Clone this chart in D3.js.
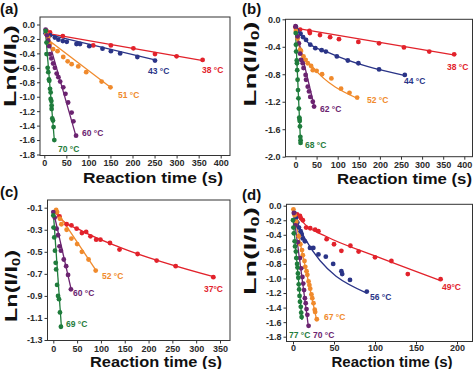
<!DOCTYPE html>
<html><head><meta charset="utf-8">
<script src="https://cdn.jsdelivr.net/npm/d3@7"></script>
<style>
body{margin:0;background:#fff;}
svg{display:block;font-family:Arial,"Liberation Sans",Helvetica,sans-serif;}
</style></head><body>
<svg id="c" width="474" height="369"></svg>
<script>
// ---------- tick values ----------
const aXTicks = [0,50,100,150,200,250,300,350,400];
const aYTicks = [0,-0.2,-0.4,-0.6,-0.8,-1.0,-1.2,-1.4,-1.6,-1.8];
const bXTicks = [0,50,100,150,200,250,300,350,400];
const bYTicks = [0,-0.4,-0.8,-1.2,-1.6,-2.0];
const cXTicks = [0,50,100,150,200,250,300,350];
const cYTicks = [-0.1,-0.3,-0.5,-0.7,-0.9,-1.1,-1.3];
const dXTicks = [0,50,100,150,200];
const dYTicks = [0,-0.2,-0.4,-0.6,-0.8,-1.0,-1.2,-1.4,-1.6,-1.8];

// ---------- temperature labels ----------
const aTemps = ["38 °C","43 °C","51 °C","60 °C","70 °C"];
const bTemps = ["38 °C","44 °C","52 °C","62 °C","68 °C"];
const cTemps = ["37°C","52 °C","60 °C","69 °C"];
const dTemps = ["49°C","56 °C","67 °C","70 °C","77 °C"];

// ---------- panel (a) ----------
const a1_t = [5,13,42,111,151,202,251,300,359];
const a1_v = [-0.09,-0.11,-0.16,-0.29,-0.29,-0.33,-0.41,-0.44,-0.49];
const a1_fit = [[3,-0.12],[360,-0.50]];
const a2_t = [3,13,24,32,42,51,73,81,102,132,151,172,211,251];
const a2_v = [-0.12,-0.15,-0.18,-0.21,-0.23,-0.24,-0.27,-0.27,-0.30,-0.335,-0.37,-0.40,-0.45,-0.50];
const a2_fit = [[3,-0.13],[251,-0.49]];
const a3_t = [5,9,13,20,30,43,53,62,77,95,130,150];
const a3_v = [-0.13,-0.18,-0.27,-0.34,-0.37,-0.45,-0.51,-0.55,-0.58,-0.66,-0.79,-0.87];
const a3_fit = [[4,-0.19],[150,-0.87]];
const a4_t = [3,6,9,11,13,16,20,24,28,32,36,43,48,54,62,66,72];
const a4_v = [-0.07,-0.15,-0.22,-0.30,-0.41,-0.47,-0.54,-0.60,-0.68,-0.73,-0.79,-0.87,-0.96,-1.08,-1.22,-1.34,-1.54];
const a4_fit = [[3,-0.07],[72,-1.55]];
const a5_t = [3,5,5,7.6,9,10.6,11.3,13,14.4,14.4,16,16.6,16.6,18,19.7,21,22.7];
const a5_v = [-0.09,-0.25,-0.41,-0.60,-0.66,-0.76,-0.78,-0.89,-0.94,-1.03,-1.06,-1.12,-1.17,-1.30,-1.33,-1.42,-1.60];
const a5_fit = [[2,-0.05],[22.7,-1.6]];

// ---------- panel (b) ----------
const b1_t = [0,11,33,34,58,82,103,149,198,257,317,376];
const b1_v = [-0.12,-0.15,-0.17,-0.20,-0.23,-0.26,-0.29,-0.33,-0.35,-0.41,-0.47,-0.51];
const b1_fit = [[0,-0.13],[378,-0.52]];
const b2_t = [1,4,12,18,25,35,47,62,72,98,124,149,198,259];
const b2_v = [-0.11,-0.17,-0.21,-0.26,-0.30,-0.37,-0.42,-0.45,-0.47,-0.54,-0.60,-0.64,-0.73,-0.81];
const b2_fit = [[0,-0.12],[30,-0.34],[80,-0.49],[260,-0.82]];
const b3_t = [1,5,7,11,13,19,24,29,37,41,50,63,85,108,128,146];
const b3_v = [-0.17,-0.28,-0.35,-0.44,-0.46,-0.54,-0.59,-0.64,-0.68,-0.74,-0.75,-0.80,-0.86,-1.01,-1.07,-1.14];
const b3_fit = [[0,-0.15],[12,-0.46],[40,-0.69],[150,-1.16]];
const b4_t = [0,5,8,11,13,17,19,24,25,29,32,35,41,44];
const b4_v = [-0.10,-0.25,-0.35,-0.50,-0.59,-0.64,-0.71,-0.81,-0.88,-0.98,-1.05,-1.13,-1.20,-1.27];
const b4_fit = [[0,-0.12],[45,-1.28]];
const b5_t = [0.5,1,1.5,3,3.5,4,5,6,7,8,9,9.5,10,10.5,11.5,12,12];
const b5_v = [-0.20,-0.37,-0.47,-0.60,-0.64,-0.74,-0.88,-1.03,-1.15,-1.30,-1.43,-1.45,-1.48,-1.56,-1.71,-1.76,-1.80];
const b5_fit = [[0,-0.17],[12,-1.8]];

// ---------- panel (c) ----------
const c1_t = [6,13,28,38,49,60,69,78,90,99,119,139,177,217,257,336];
const c1_v = [-0.14,-0.18,-0.25,-0.26,-0.29,-0.33,-0.32,-0.36,-0.39,-0.39,-0.42,-0.48,-0.52,-0.58,-0.63,-0.73];
const c1_fit = [[5,-0.14],[13,-0.19],[60,-0.31],[140,-0.46],[340,-0.73]];
const c2_t = [6,8,14,17,28,38,50,60,74,89];
const c2_v = [-0.12,-0.14,-0.20,-0.25,-0.30,-0.38,-0.43,-0.50,-0.57,-0.67];
const c2_fit = [[5,-0.12],[90,-0.67]];
const c3_t = [0,3,7,10,13,16,22,27,31,37];
const c3_v = [-0.14,-0.19,-0.29,-0.35,-0.45,-0.49,-0.57,-0.63,-0.71,-0.84];
const c3_fit = [[0,-0.13],[38,-0.85]];
const c4_t = [0,0.5,2,3.5,5,6,8,10,12,14,16];
const c4_v = [-0.17,-0.28,-0.37,-0.49,-0.60,-0.66,-0.80,-0.90,-0.93,-1.05,-1.18];
const c4_fit = [[0,-0.14],[17,-1.18]];

// ---------- panel (d) ----------
const d1_t = [5,8.5,9.5,12,16,21,27,31,41,50,59,70,80,100,120,140,180];
const d1_v = [-0.12,-0.14,-0.17,-0.20,-0.30,-0.31,-0.33,-0.35,-0.46,-0.53,-0.62,-0.55,-0.63,-0.71,-0.76,-0.94,-1.01];
const d1_fit = [[5,-0.13],[15,-0.26],[40,-0.42],[100,-0.69],[180,-1.03]];
const d2_t = [1.6,3.7,5.3,7.3,9.3,10.6,11.8,14.6,20.7,24.8,31,40,49,59,60,69.5,90];
const d2_v = [-0.10,-0.17,-0.23,-0.30,-0.35,-0.39,-0.45,-0.49,-0.58,-0.58,-0.67,-0.70,-0.80,-0.90,-0.94,-1.02,-1.18];
const d2_fit = [[1,-0.11],[8,-0.30],[15,-0.46],[90,-1.2]];
const d3_t = [0.5,2,4,7,9,11,12,14,15,16.5,17.5,19,20,21,22.5,23.5,25,26.5,27,29];
const d3_v = [-0.05,-0.13,-0.22,-0.42,-0.53,-0.61,-0.68,-0.76,-0.84,-0.90,-0.95,-1.04,-1.09,-1.14,-1.22,-1.27,-1.34,-1.43,-1.46,-1.56];
const d3_fit = [[0,-0.05],[29,-1.58]];
const d4_t = [1,3,6,8.5,10,11.5,12.5,13.5,14.5,15.5,16.5,17.5,19];
const d4_v = [-0.10,-0.27,-0.50,-0.72,-0.86,-0.98,-1.07,-1.16,-1.27,-1.34,-1.42,-1.50,-1.65];
const d4_fit = [[0,-0.05],[19,-1.68]];
const d5_t = [0,0.5,1,2,2.5,3.5,4,5,5.5,6,6.5,7,7.5,8,8.5,9.5,10,10.5];
const d5_v = [-0.20,-0.30,-0.38,-0.49,-0.56,-0.63,-0.72,-0.80,-0.85,-0.93,-0.99,-1.08,-1.15,-1.24,-1.32,-1.39,-1.47,-1.53];
const d5_fit = [[0,-0.17],[11,-1.57]];

// ---------- styling ----------
const RED="#e2222b", BLUE="#2a3487", ORANGE="#f08a2c", PURPLE="#6b2370", GREEN="#1f7c3c";

const panels = [
 {tag:"(a)", tagPos:[0,13.5], frame:[40,17,230,155.5], xd:[0,400], xr:[44.3,220.7], yd:[0,-1.8], yr:[24.5,154.5],
  xTicks:aXTicks, yTicks:aYTicks, yFmt:".1f", xPad:1.6,
  xTitle:[153,182.5,140], yTitle:[16,66,82],
  series:[
   {t:a1_t,v:a1_v,fit:a1_fit,c:RED,label:aTemps[0],lp:[202,73]},
   {t:a2_t,v:a2_v,fit:a2_fit,c:BLUE,label:aTemps[1],lp:[148,74]},
   {t:a3_t,v:a3_v,fit:a3_fit,c:ORANGE,label:aTemps[2],lp:[118,98]},
   {t:a4_t,v:a4_v,fit:a4_fit,c:PURPLE,label:aTemps[3],lp:[82,136]},
   {t:a5_t,v:a5_v,fit:a5_fit,c:GREEN,label:aTemps[4],lp:[58,152]}]},
 {tag:"(b)", tagPos:[242,13.5], frame:[285.5,19.3,472.5,156.7], xd:[0,400], xr:[295.5,464.3], yd:[0,-2], yr:[19.3,156.7],
  xTicks:bXTicks, yTicks:bYTicks, yFmt:".1f", xPad:1.9,
  xTitle:[404.5,183.5,135], yTitle:[256,64,85],
  series:[
   {t:b1_t,v:b1_v,fit:b1_fit,c:RED,label:bTemps[0],lp:[447,70]},
   {t:b2_t,v:b2_v,fit:b2_fit,c:BLUE,label:bTemps[1],lp:[404,84]},
   {t:b3_t,v:b3_v,fit:b3_fit,c:ORANGE,label:bTemps[2],lp:[367,103]},
   {t:b4_t,v:b4_v,fit:b4_fit,c:PURPLE,label:bTemps[3],lp:[320,111.5]},
   {t:b5_t,v:b5_v,fit:b5_fit,c:GREEN,label:bTemps[4],lp:[305,148]}]},
 {tag:"(c)", tagPos:[0,196.5], frame:[47.5,200,230,340.5], xd:[0,350], xr:[53.3,220], yd:[-0.1,-1.3], yr:[207.7,340],
  xTicks:cXTicks, yTicks:cYTicks, yFmt:".1f", xPad:1.8,
  xTitle:[156,367,132], yTitle:[17,286,72],
  series:[
   {t:c1_t,v:c1_v,fit:c1_fit,c:RED,label:cTemps[0],lp:[204,292]},
   {t:c2_t,v:c2_v,fit:c2_fit,c:ORANGE,label:cTemps[1],lp:[102,279]},
   {t:c3_t,v:c3_v,fit:c3_fit,c:PURPLE,label:cTemps[2],lp:[73,296]},
   {t:c4_t,v:c4_v,fit:c4_fit,c:GREEN,label:cTemps[3],lp:[66,327]}]},
 {tag:"(d)", tagPos:[242,199.5], frame:[286.5,204.3,472.5,341.5], xd:[0,200], xr:[293,457], yd:[0,-1.8], yr:[205.7,336.7],
  xTicks:dXTicks, yTicks:dYTicks, yFmt:".1f", xPad:0.3,
  xTitle:[392,366.5,121], yTitle:[256,251,88],
  series:[
   {t:d1_t,v:d1_v,fit:d1_fit,c:RED,label:dTemps[0],lp:[442,290]},
   {t:d2_t,v:d2_v,fit:d2_fit,c:BLUE,label:dTemps[1],lp:[370,300]},
   {t:d3_t,v:d3_v,fit:d3_fit,c:ORANGE,label:dTemps[2],lp:[324,320]},
   {t:d4_t,v:d4_v,fit:d4_fit,c:PURPLE,label:dTemps[3],lp:[313,337.5]},
   {t:d5_t,v:d5_v,fit:d5_fit,c:GREEN,label:dTemps[4],lp:[289,337.5]}]}
];

const svg = d3.select("#c");
svg.append("rect").attr("width",474).attr("height",369).attr("fill","#fff");

panels.forEach((p,pi) => {
  const g = svg.append("g");
  const x = d3.scaleLinear().domain(p.xd).range(p.xr);
  const y = d3.scaleLinear().domain(p.yd).range(p.yr);
  const [fx0,fy0,fx1,fy1] = p.frame;

  // axes
  const xa = g.append("g").attr("transform",`translate(0,${fy1})`)
    .call(d3.axisBottom(x).tickValues(p.xTicks).tickSize(3).tickPadding(p.xPad).tickFormat(d3.format("d")));
  const ya = g.append("g").attr("transform",`translate(${fx0},0)`)
    .call(d3.axisLeft(y).tickValues(p.yTicks).tickSize(3).tickPadding(2).tickFormat(d3.format(p.yFmt)));
  [xa,ya].forEach(a => {
    a.select(".domain").remove();
    a.selectAll("line").attr("stroke","#333").attr("stroke-width",1);
    a.selectAll("text").attr("font-family","Arial, 'Liberation Sans', sans-serif")
      .attr("font-size",9).attr("font-weight","bold").attr("fill","#2a2a2a");
  });
  ya.selectAll("text").text(d => d3.format(p.yFmt)(d).replace("−","-"));

  // frame
  g.append("rect").attr("x",fx0).attr("y",fy0).attr("width",fx1-fx0).attr("height",fy1-fy0)
    .attr("fill","none").attr("stroke","#333").attr("stroke-width",1);

  // series
  const clipId = "clip"+pi;
  g.append("clipPath").attr("id",clipId).append("rect")
    .attr("x",fx0).attr("y",fy0).attr("width",fx1-fx0).attr("height",fy1-fy0);
  const plot = g.append("g").attr("clip-path",`url(#${clipId})`);
  const line = d3.line().x(d=>x(d[0])).y(d=>y(d[1])).curve(d3.curveMonotoneX);
  p.series.forEach(s => {
    plot.append("path").attr("d",line(s.fit)).attr("fill","none").attr("stroke",s.c).attr("stroke-width",1.3);
  });
  p.series.forEach(s => {
    plot.selectAll(null).data(d3.zip(s.t,s.v)).join("circle")
      .attr("cx",d=>x(d[0])).attr("cy",d=>y(d[1])).attr("r",2.4).attr("fill",s.c);
  });
  p.series.forEach(s => {
    g.append("text").attr("x",s.lp[0]).attr("y",s.lp[1]).attr("font-size",8.5).attr("font-weight","bold")
      .attr("fill",s.c).text(s.label);
  });

  // titles
  g.append("text").attr("x",p.xTitle[0]).attr("y",p.xTitle[1]).attr("text-anchor","middle")
    .attr("font-size",14).attr("font-weight","bold").attr("fill","#111")
    .attr("textLength",p.xTitle[2]).attr("lengthAdjust","spacingAndGlyphs")
    .text("Reaction time (s)");
  const yt = g.append("text").attr("transform",`translate(${p.yTitle[0]},${p.yTitle[1]}) rotate(-90)`)
    .attr("text-anchor","middle").attr("font-size",16).attr("font-weight","bold").attr("fill","#111")
    .attr("textLength",p.yTitle[2]).attr("lengthAdjust","spacingAndGlyphs");
  yt.append("tspan").text("Ln(I/I");
  yt.append("tspan").attr("font-size",10).attr("dy",3).text("0");
  yt.append("tspan").attr("dy",-3).text(")");

  g.append("text").attr("x",p.tagPos[0]).attr("y",p.tagPos[1]).attr("font-size",15).attr("font-weight","bold")
    .attr("fill","#111").text(p.tag);
});
</script>
</body></html>
